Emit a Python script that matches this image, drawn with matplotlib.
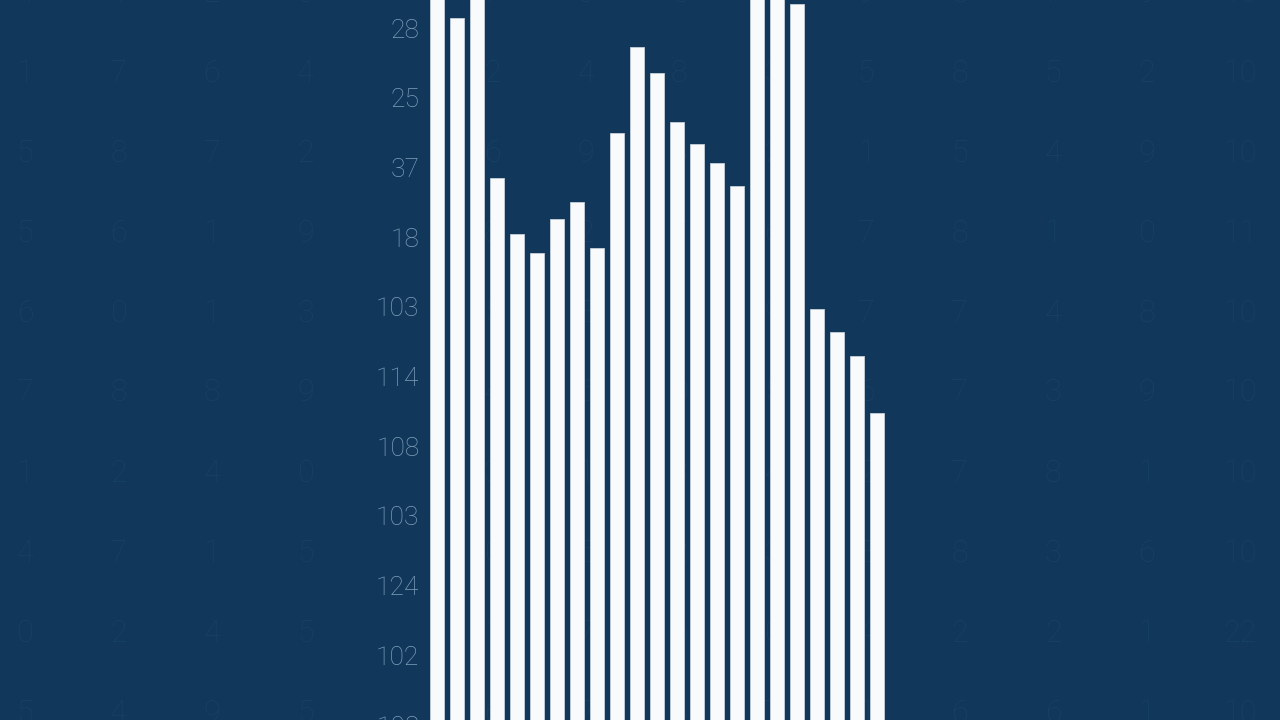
import matplotlib
matplotlib.use("Agg")
import matplotlib.pyplot as plt
import numpy as np

# bar heights (axis top = 100, several bars run past the top)
values = [104, 97.5, 104, 75.3, 67.5, 64.9, 69.6, 71.9, 65.6, 81.5, 93.5, 89.9,
          83.1, 80.0, 77.4, 74.2, 104, 104, 99.4, 57.1, 53.9, 50.6, 42.6]

# the (odd) y tick labels, top to bottom
tick_labels = ["28", "25", "37", "18", "103", "114", "108", "103", "124", "102", "108"]
tick_top = 96.1
tick_step = 9.68

# faint digits in the background, one list per row
bg_rows = [
    ["4", "1", "2", "6", "3", "7", "0", "5", "1", "9", "8", "7", "9", "10"],
    ["1", "7", "6", "4", "5", "2", "4", "8", "3", "5", "8", "5", "2", "10"],
    ["5", "8", "7", "2", "1", "6", "9", "3", "2", "1", "5", "4", "9", "10"],
    ["5", "6", "1", "9", "4", "8", "2", "7", "6", "7", "8", "1", "0", "11"],
    ["6", "0", "1", "3", "8", "5", "3", "1", "9", "7", "7", "4", "8", "10"],
    ["7", "8", "8", "9", "2", "4", "6", "0", "5", "6", "7", "3", "9", "10"],
    ["1", "2", "4", "0", "7", "3", "1", "8", "4", "2", "7", "8", "1", "10"],
    ["4", "7", "1", "5", "9", "0", "5", "2", "3", "8", "8", "3", "6", "10"],
    ["0", "2", "4", "5", "3", "1", "7", "6", "0", "4", "2", "2", "1", "22"],
    ["5", "4", "9", "5", "8", "6", "2", "4", "7", "1", "6", "6", "1", "10"],
]

bg = "#11375a"
label_font = ["Liberation Sans Narrow", "Roboto", "DejaVu Sans"]

fig = plt.figure(figsize=(12.8, 7.2), dpi=100, facecolor=bg)

# background digit grid
ncol = len(bg_rows[0])
xs = np.linspace(25, 1240, ncol) / 1280
for r, row in enumerate(bg_rows):
    y = 1 - (-7 + 80 * r) / 720
    for c, d in enumerate(row):
        if c == 4:
            continue  # this column sits right under the tick labels
        fig.text(xs[c], y, d, ha="center", va="center", fontsize=22,
                 fontweight="light", color="#174264", family=label_font,
                 zorder=-1)

ax = fig.add_axes([425 / 1280, -0.05, 465 / 1280, 1.05])
ax.patch.set_alpha(0)
x = np.arange(len(values))
ax.bar(x, values, width=0.7, color="#f8fafc", edgecolor="#c5d0da", linewidth=0.6)

ax.set_xlim(-0.6, 22.65)
ax.set_ylim(-5, 100)
ax.set_xticks([])
ax.set_yticks([tick_top - i * tick_step for i in range(len(tick_labels))])
ax.set_yticklabels(tick_labels)
ax.tick_params(axis="y", length=0, pad=4, labelsize=19, labelcolor="#7e9fbb")
for t in ax.get_yticklabels():
    t.set_family(label_font)
    t.set_fontweight("light")
for s in ax.spines.values():
    s.set_visible(False)

fig.savefig("out.png", dpi=100, facecolor=bg)
